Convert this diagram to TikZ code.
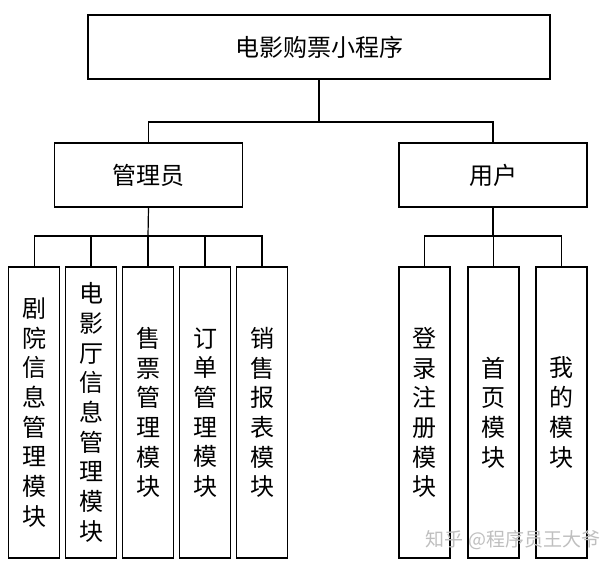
\documentclass[tikz,border=0pt]{standalone}
\usepackage{fontspec}
\setmainfont{Noto Sans CJK SC}
\begin{document}
\begin{tikzpicture}[x=1pt,y=-1pt,
  box/.style={draw=black,line width=1.2pt,inner sep=0pt,fill=white},
  topbox/.style={box,minimum width=462pt,minimum height=64pt,font=\fontsize{24}{29.7}\selectfont},
  midbox/.style={box,minimum width=188pt,minimum height=64pt,font=\fontsize{24}{29.7}\selectfont},
  leaf/.style={box,minimum width=51pt,minimum height=291pt,align=center,text width=51pt,font=\fontsize{24}{29.7}\selectfont},
  conn/.style={draw=black,line width=1.2pt}]
\useasboundingbox (0,0) rectangle (613,565);
\fill[white] (0,0) rectangle (613,565);
\node[topbox] (top) at (319,47) {电影购票小程序};
\node[midbox] (admin) at (148.5,175) {管理员};
\node[midbox] (user) at (493,175) {用户};
\node[leaf] (a1) at (34.2,412.5) {剧\\院\\信\\息\\管\\理\\模\\块};
\node[leaf] (a2) at (91,412.5) {电\\影\\厅\\信\\息\\管\\理\\模\\块};
\node[leaf] (a3) at (148,412.5) {售\\票\\管\\理\\模\\块};
\node[leaf] (a4) at (205,412.5) {订\\单\\管\\理\\模\\块};
\node[leaf] (a5) at (262,412.5) {销\\售\\报\\表\\模\\块};
\node[leaf] (u1) at (424.5,412.5) {登\\录\\注\\册\\模\\块};
\node[leaf] (u2) at (493.5,412.5) {首\\页\\模\\块};
\node[leaf] (u3) at (561.5,412.5) {我\\的\\模\\块};
\coordinate (b1) at (319,122);
\coordinate (b2) at (148,236);
\coordinate (b3) at (493,236);
\draw[conn] (top.south) -- (b1);
\draw[conn] (admin.north) -- (admin.north |- b1) -- (user.north |- b1) -- (user.north);
\draw[conn] (admin.south) -- (b2);
\draw[conn] (a1.north) -- (a1.north |- b2) -- (a5.north |- b2) -- (a5.north);
\foreach \n in {a2,a3,a4} \draw[conn] (\n.north) -- (\n.north |- b2);
\draw[conn] (user.south) -- (b3);
\draw[conn] (u1.north) -- (u1.north |- b3) -- (u3.north |- b3) -- (u3.north);
\draw[conn] (u2.north) -- (u2.north |- b3);
\node[text=black!25,font=\fontsize{19}{22}\selectfont,inner sep=0pt] (wm) at (513,540) {知乎 @程序员王大爷};
\end{tikzpicture}
\end{document}
